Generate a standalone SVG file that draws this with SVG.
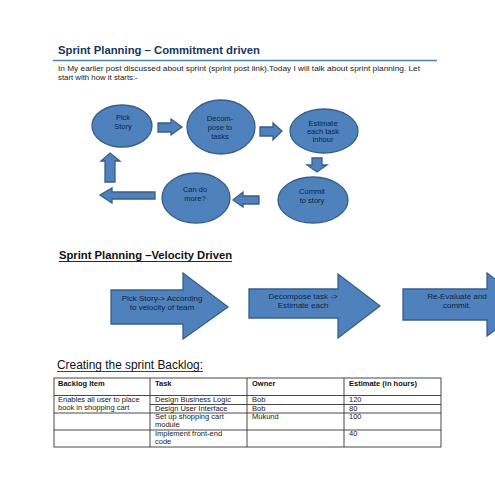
<svg xmlns="http://www.w3.org/2000/svg" width="495" height="495" viewBox="0 0 495 495">
<style>
.sh{fill:#4F81BD;stroke:#385D8A;stroke-width:1.3}
.nt{font-family:"Liberation Sans",Arial,sans-serif;font-size:7.5px;fill:#0F243E;text-anchor:middle}
.bt{font-family:"Liberation Sans",Arial,sans-serif;font-size:8px;fill:#0F243E;text-anchor:middle}
.tt{font-family:"Liberation Sans",Arial,sans-serif;font-size:7.5px;fill:#222}
.th{font-family:"Liberation Sans",Arial,sans-serif;font-size:7.5px;font-weight:bold;fill:#111}
.tl{stroke:#333;stroke-width:0.9;fill:none}
</style>
<rect width="495" height="495" fill="#fff"/>
<g id="header">
<text x="58" y="54" font-family="'Liberation Sans',Arial,sans-serif" font-size="11" font-weight="bold" fill="#17365D" textLength="202" lengthAdjust="spacingAndGlyphs">Sprint Planning – Commitment driven</text>
<line x1="53" y1="60.5" x2="437" y2="60.5" stroke="#4F81BD" stroke-width="1.5"/>
<text x="58" y="71" font-family="'Liberation Sans',Arial,sans-serif" font-size="7.8" fill="#222" textLength="362" lengthAdjust="spacingAndGlyphs">In My earlier post discussed about sprint (sprint post link).Today I will talk about sprint planning. Let</text>
<text x="58" y="80" font-family="'Liberation Sans',Arial,sans-serif" font-size="7.8" fill="#222">start with how it starts:-</text>
</g>
<g id="connectors">
<path class="sh" d="M158,123 H171 V119 L182,127 L171,135 V132 H158 Z"/>
<path class="sh" d="M260,127 H273 V123 L282,131 L273,140 V136 H260 Z"/>
<path class="sh" d="M312,158 H322 V165 H327 L317,172 L307,165 H312 Z"/>
<path class="sh" d="M259,196 H243 V192 L233,200 L243,207 V204 H259 Z"/>
<path class="sh" d="M155,192 H112 V188 L100,195 L112,203 V199 H155 Z"/>
<path class="sh" d="M105,182 V161 H101 L110,153 L120,161 H115 V182 Z"/>
</g>
<g id="node-pick-story">
<ellipse class="sh" cx="122" cy="126" rx="30" ry="21"/>
<text class="nt" x="123" y="120">Pick</text>
<text class="nt" x="123" y="129">Story</text>
</g>
<g id="node-decompose">
<ellipse class="sh" cx="221" cy="127" rx="34" ry="27"/>
<text class="nt" x="220" y="121">Decom-</text>
<text class="nt" x="220" y="130">pose to</text>
<text class="nt" x="220" y="139">tasks</text>
</g>
<g id="node-estimate">
<ellipse class="sh" cx="324" cy="131" rx="34" ry="22"/>
<text class="nt" x="323" y="126">Estimate</text>
<text class="nt" x="323" y="134">each task</text>
<text class="nt" x="323" y="142">inhour</text>
</g>
<g id="node-commit">
<ellipse class="sh" cx="313" cy="200" rx="35" ry="23"/>
<text class="nt" x="312" y="194">Commit</text>
<text class="nt" x="312" y="203">to story</text>
</g>
<g id="node-can-do-more">
<ellipse class="sh" cx="196" cy="198" rx="34" ry="25"/>
<text class="nt" x="195" y="192">Can do</text>
<text class="nt" x="195" y="201">more?</text>
</g>
<g id="section2">
<text x="59" y="259" font-family="'Liberation Sans',Arial,sans-serif" font-size="10.5" font-weight="bold" fill="#111" textLength="173" lengthAdjust="spacingAndGlyphs">Sprint Planning –Velocity Driven</text>
<line x1="59" y1="261.5" x2="232" y2="261.5" stroke="#111" stroke-width="0.9"/>
</g>
<g id="node-v1">
<path class="sh" d="M111,290 H183 V273 L228,307 L183,339 V324 H111 Z"/>
<text class="bt" x="162" y="301">Pick Story-&gt; According</text>
<text class="bt" x="162" y="310">to velocity of team</text>
</g>
<g id="node-v2">
<path class="sh" d="M249,289 H338 V274 L380,306 L338,338 V318 H249 Z"/>
<text class="bt" x="303" y="299">Decompose task -&gt;</text>
<text class="bt" x="303" y="308">Estimate each</text>
</g>
<g id="node-v3">
<path class="sh" d="M403,289 H487 V273 L530,305 L487,336 V320 H403 Z"/>
<text class="bt" x="457" y="299">Re-Evaluate and</text>
<text class="bt" x="457" y="308">commit.</text>
</g>
<g id="section3">
<text x="57" y="369" font-family="'Liberation Sans',Arial,sans-serif" font-size="12" fill="#111" textLength="146" lengthAdjust="spacingAndGlyphs">Creating the sprint Backlog:</text>
<line x1="57" y1="371.5" x2="203" y2="371.5" stroke="#111" stroke-width="0.8"/>
</g>
<g id="table">
<rect class="tl" x="54" y="378" width="387" height="69"/>
<line class="tl" x1="150" y1="378" x2="150" y2="447"/>
<line class="tl" x1="247" y1="378" x2="247" y2="447"/>
<line class="tl" x1="344" y1="378" x2="344" y2="447"/>
<line class="tl" x1="54" y1="395.5" x2="441" y2="395.5"/>
<line class="tl" x1="150" y1="404.5" x2="441" y2="404.5"/>
<line class="tl" x1="54" y1="413" x2="441" y2="413"/>
<line class="tl" x1="54" y1="430" x2="441" y2="430"/>
<text class="th" x="58" y="386">Backlog Item</text>
<text class="th" x="155" y="386">Task</text>
<text class="th" x="252" y="386">Owner</text>
<text class="th" x="349" y="386">Estimate (in hours)</text>
<text class="tt" x="58" y="402">Enables all user to place</text>
<text class="tt" x="58" y="410">book in shopping cart</text>
<text class="tt" x="155" y="402">Design Business Logic</text>
<text class="tt" x="155" y="411">Design User Interface</text>
<text class="tt" x="155" y="419">Set up shopping cart</text>
<text class="tt" x="155" y="427">module</text>
<text class="tt" x="155" y="436">Implement front-end</text>
<text class="tt" x="155" y="444">code</text>
<text class="tt" x="252" y="402">Bob</text>
<text class="tt" x="252" y="411">Bob</text>
<text class="tt" x="252" y="419">Mukund</text>
<text class="tt" x="349" y="402">120</text>
<text class="tt" x="349" y="411">80</text>
<text class="tt" x="349" y="419">100</text>
<text class="tt" x="349" y="436">40</text>
</g>
</svg>
